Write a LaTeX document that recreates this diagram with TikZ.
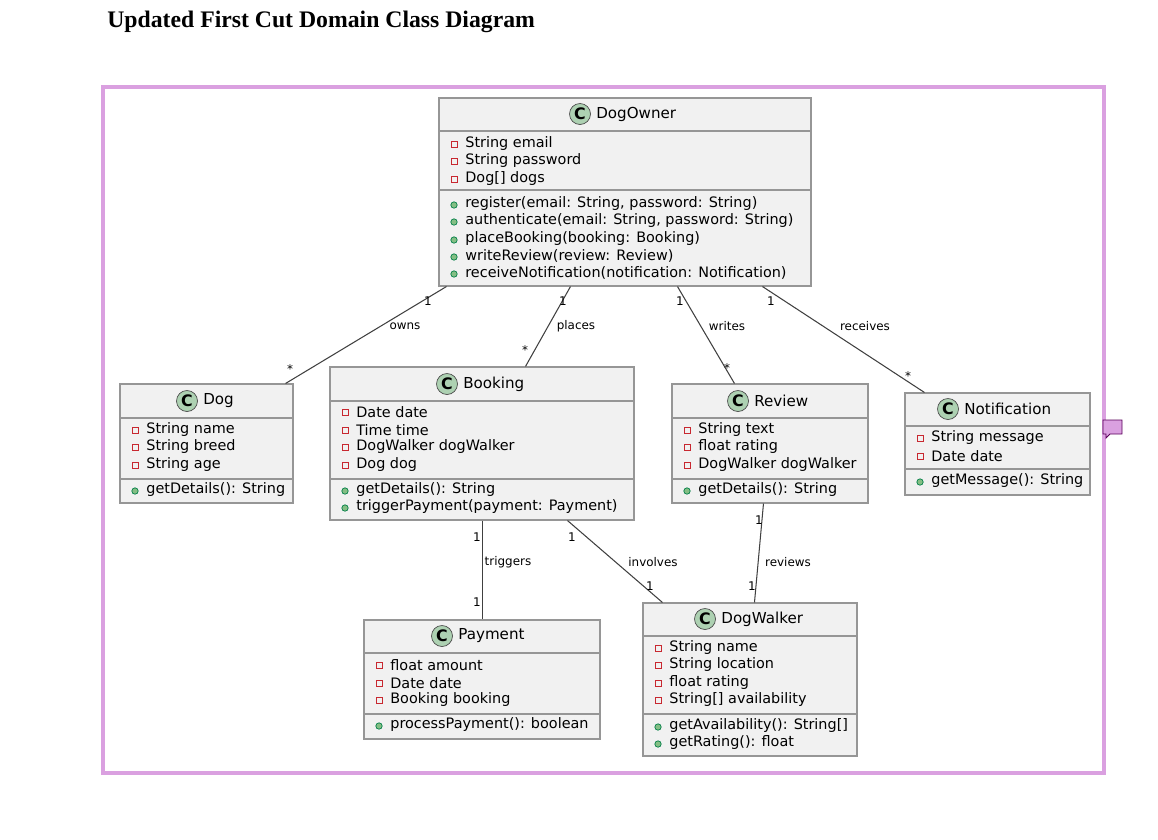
\documentclass[tikz,border=0pt]{standalone}
\usepackage{fontspec}
\setmainfont{DejaVu Sans}
\newfontfamily\titlefont{Liberation Serif}
\usetikzlibrary{positioning,fit}

\definecolor{frame}{RGB}{218,160,224}
\definecolor{boxfill}{RGB}{241,241,241}
\definecolor{boxline}{RGB}{150,150,150}
\definecolor{iconfill}{RGB}{173,209,178}
\definecolor{privred}{RGB}{200,40,48}
\definecolor{pubgreen}{RGB}{132,190,132}
\definecolor{publine}{RGB}{3,128,72}

\tikzset{
  box/.style={draw=boxline,fill=boxfill,inner sep=0pt,line width=0.6pt},
  sep/.style={draw=boxline,line width=0.6pt},
  icon/.style={circle,draw=black!70,fill=iconfill,inner sep=0pt,minimum size=0.42cm,
    font=\fontsize{9}{9}\selectfont\bfseries},
  txt/.style={anchor=west,inner sep=0pt,font=\fontsize{8.2}{9}\selectfont},
  lbl/.style={inner sep=0pt,font=\fontsize{6.8}{8}\selectfont},
  assoc/.style={draw=black!75,line width=0.6pt}
}

% private attribute and public method lines
\newcommand{\priv}[3]{%
  \draw[privred,line width=0.5pt] (#1+5,#2-3) rectangle (#1+11,#2+3);
  \node[txt] at (#1+19,#2) {#3};}
\newcommand{\pub}[3]{%
  \filldraw[fill=pubgreen,draw=publine,line width=0.4pt] (#1+8,#2+1) circle (3.2);
  \node[txt] at (#1+19,#2) {#3};}
\newcommand{\clshead}[4]{%
  \node[icon] at (#2,#3) {C};
  \node[txt,font=\fontsize{8.6}{9}\selectfont] at (#2+16,#3) {#1};
  \draw[sep] (#4.west |- 0,#3+17) -- (#4.east |- 0,#3+17);}
\newcommand{\divider}[2]{\draw[sep] (#1.west |- 0,#2) -- (#1.east |- 0,#2);}

\begin{document}
\begin{tikzpicture}[x=0.02cm,y=-0.02cm]
  \useasboundingbox (0,0) rectangle (1158,839);

  \node[anchor=west,inner sep=0pt,font=\titlefont\fontsize{13.5}{14}\selectfont\bfseries] (title) at (107,22) {Updated First Cut Domain Class Diagram};
  \draw[frame,line width=2.6pt] (103,87) rectangle (1104,773);

  % boxes
  \node[box,fit={(439,98) (811,286)}] (owner) {};
  \node[box,fit={(120,384) (293,503)}] (dog) {};
  \node[box,fit={(330,367) (634,520)}] (booking) {};
  \node[box,fit={(672,384) (868,503)}] (review) {};
  \node[box,fit={(905,393) (1090,495)}] (notif) {};
  \node[box,fit={(364,620) (600,739)}] (payment) {};
  \node[box,fit={(643,603) (857,756)}] (walker) {};

  % DogOwner
  \clshead{DogOwner}{580}{114}{owner}
  \priv{446}{144}{String email}
  \priv{446}{161}{String password}
  \priv{446}{179}{Dog[] dogs}
  \divider{owner}{190}
  \pub{446}{204}{register(email: String, password: String)}
  \pub{446}{221}{authenticate(email: String, password: String)}
  \pub{446}{239}{placeBooking(booking: Booking)}
  \pub{446}{256}{writeReview(review: Review)}
  \pub{446}{273}{receiveNotification(notification: Notification)}

  % Dog
  \clshead{Dog}{187}{401}{dog}
  \priv{127}{430}{String name}
  \priv{127}{447}{String breed}
  \priv{127}{465}{String age}
  \divider{dog}{479}
  \pub{127}{490}{getDetails(): String}

  % Booking
  \clshead{Booking}{447}{384}{booking}
  \priv{337}{412}{Date date}
  \priv{337}{430}{Time time}
  \priv{337}{447}{DogWalker dogWalker}
  \priv{337}{465}{Dog dog}
  \divider{booking}{479}
  \pub{337}{490}{getDetails(): String}
  \pub{337}{507}{triggerPayment(payment: Payment)}

  % Review
  \clshead{Review}{738}{401}{review}
  \priv{679}{430}{String text}
  \priv{679}{447}{float rating}
  \priv{679}{465}{DogWalker dogWalker}
  \divider{review}{479}
  \pub{679}{490}{getDetails(): String}

  % Notification
  \clshead{Notification}{948}{409}{notif}
  \priv{912}{438}{String message}
  \priv{912}{456}{Date date}
  \divider{notif}{469}
  \pub{912}{481}{getMessage(): String}

  % Payment
  \clshead{Payment}{442}{636}{payment}
  \priv{371}{665}{float amount}
  \priv{371}{683}{Date date}
  \priv{371}{700}{Booking booking}
  \divider{payment}{714}
  \pub{371}{725}{processPayment(): boolean}

  % DogWalker
  \clshead{DogWalker}{705}{619}{walker}
  \priv{650}{648}{String name}
  \priv{650}{665}{String location}
  \priv{650}{683}{float rating}
  \priv{650}{700}{String[] availability}
  \divider{walker}{714}
  \pub{650}{726}{getAvailability(): String[]}
  \pub{650}{743}{getRating(): float}

  % note marker
  \filldraw[fill=frame,draw=violet!70!black,line width=0.5pt]
    (1103,420) -- (1122,420) -- (1122,434) -- (1110,434) -- (1106,438) -- (1106,434) -- (1103,434) -- cycle;

  % association end points
  \path (owner.south west) ++(8,0) coordinate (o1)
        (owner.south west) ++(132,0) coordinate (o2)
        (owner.south west) ++(239,0) coordinate (o3)
        (owner.south west) ++(324,0) coordinate (o4)
        (dog.north east) ++(-8,0) coordinate (d1)
        (booking.north west) ++(196,0) coordinate (b2)
        (review.north west) ++(63,0) coordinate (r3)
        (notif.north west) ++(20,0) coordinate (n4)
        (booking.south west) ++(153,0) coordinate (b5)
        (payment.north west) ++(119,0) coordinate (p5)
        (booking.south west) ++(238,0) coordinate (b6)
        (walker.north west) ++(20,0) coordinate (w6)
        (review.south west) ++(92,0) coordinate (r7)
        (walker.north west) ++(112,0) coordinate (w7);

  % associations
  \draw[assoc] (o1) -- (d1);
  \draw[assoc] (o2) -- (b2);
  \draw[assoc] (o3) -- (r3);
  \draw[assoc] (o4) -- (n4);
  \draw[assoc] (b5) -- (p5);
  \draw[assoc] (b6) -- (w6);
  \draw[assoc] (r7) -- (w7);

  % labels
  \node[lbl] at (428,301) {1};
  \node[lbl] at (405,326) {owns};
  \node[lbl] at (290,369) {*};
  \node[lbl] at (563,301) {1};
  \node[lbl] at (576,326) {places};
  \node[lbl] at (525,350) {*};
  \node[lbl] at (680,301) {1};
  \node[lbl] at (727,326) {writes};
  \node[lbl] at (727,368) {*};
  \node[lbl] at (771,301) {1};
  \node[lbl] at (865,326) {receives};
  \node[lbl] at (908,376) {*};
  \node[lbl] at (477,537) {1};
  \node[lbl] at (508,562) {triggers};
  \node[lbl] at (477,602) {1};
  \node[lbl] at (572,537) {1};
  \node[lbl] at (653,562) {involves};
  \node[lbl] at (650,586) {1};
  \node[lbl] at (759,520) {1};
  \node[lbl] at (788,562) {reviews};
  \node[lbl] at (752,586) {1};
\end{tikzpicture}
\end{document}
